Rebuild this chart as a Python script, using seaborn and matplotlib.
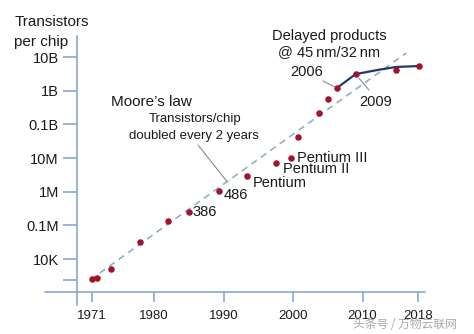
import numpy as np
import pandas as pd
import matplotlib
matplotlib.use("Agg")
import matplotlib.pyplot as plt
import seaborn as sns

# ---- data ----
years = [1971, 1971.8, 1973.8, 1978.0, 1982.0, 1985.0, 1989.4, 1993.3, 1997.5,
         1999.7, 2000.7, 2003.7, 2005.0, 2006.3, 2009.0, 2014.8, 2018.1]
transistors = [2.5e3, 2.8e3, 5.0e3, 3.2e4, 1.34e5, 2.5e5, 1.05e6, 2.9e6, 7.1e6,
               1.0e7, 4.2e7, 2.2e8, 5.6e8, 1.2e9, 3.1e9, 4.1e9, 5.4e9]
chip_labels = ["", "", "", "", "", "386", "486", "Pentium", "Pentium II",
               "Pentium III", "", "", "", "", "", "", ""]

moore_years = [1970.8, 2016.3]
moore_values = [2.4e3, 1.32e10]

delayed_years = [2006.3, 2009.0, 2012.1, 2014.8, 2018.1]
delayed_values = [1.2e9, 3.1e9, 4.1e9, 5.05e9, 5.4e9]

xtick_years = [1971, 1980, 1990, 2000, 2010, 2018]
ytick_values = [1e10, 1e9, 1e8, 1e7, 1e6, 1e5, 1e4, 2.4e3]
ytick_labels = ["10B", "1B", "0.1B", "10M", "1M", "0.1M", "10K", ""]

# ---- style ----
sns.set_style("white")
plt.rcParams["font.family"] = ["Liberation Sans", "Noto Sans CJK SC", "DejaVu Sans"]

AXIS_BLUE = "#7ba0d6"
DOT_RED = "#a3142c"
DASH_COL = "#90b0c6"
LINE_BLUE = "#1f3a6a"
LEADER = "#8a8a8a"
TXT = "#1a1a1a"

W, H = 474, 334
fig = plt.figure(figsize=(W / 100, H / 100), dpi=100)
fig.patch.set_facecolor("white")


def fpx(x, y):
    return (x / W, 1 - y / H)


ax = fig.add_axes([45 / W, (H - 305) / H, 380 / W, (305 - 36) / H])
ax.set_facecolor("white")
ax.set_yscale("log")
ax.set_xlim(1964.29, 2018.99)
ax.set_ylim(10 ** 2.634, 10 ** 10.624)

df = pd.DataFrame({"year": years, "transistors": transistors, "label": chip_labels})
df_moore = pd.DataFrame({"year": moore_years, "transistors": moore_values})
df_del = pd.DataFrame({"year": delayed_years, "transistors": delayed_values})

sns.lineplot(data=df_moore, x="year", y="transistors", ax=ax, color=DASH_COL,
             lw=1.2, dashes=False, estimator=None, zorder=1).lines[-1].set_dashes((4, 3))
sns.lineplot(data=df_del, x="year", y="transistors", ax=ax, color=LINE_BLUE,
             lw=1.6, estimator=None, zorder=2)
sns.scatterplot(data=df, x="year", y="transistors", ax=ax, color=DOT_RED, s=22,
                linewidth=0, zorder=3)

# spines
for s in ["top", "right"]:
    ax.spines[s].set_visible(False)
ax.spines["left"].set_position(("data", 1968.89))
ax.spines["bottom"].set_position(("data", 10 ** 3.021))
for s in ["left", "bottom"]:
    ax.spines[s].set_color(AXIS_BLUE)
    ax.spines[s].set_linewidth(1.1)

ax.set_xticks(xtick_years)
ax.set_xticklabels([str(y) for y in xtick_years])
ax.set_yticks(ytick_values)
ax.set_yticklabels(ytick_labels)
ax.minorticks_off()
ax.tick_params(axis="y", which="major", left=True, direction="out", length=10,
               width=1.1, color=AXIS_BLUE, pad=3, labelsize=10.5, labelcolor=TXT)
ax.tick_params(axis="x", which="major", bottom=True, direction="out", length=7,
               width=1.1, color=AXIS_BLUE, pad=6, labelsize=9.5, labelcolor=TXT)
ax.set_xlabel("")
ax.set_ylabel("")
ax.grid(False)

# chip labels
offsets = {"386": (2.9, 0), "486": (2.9, -2.9), "Pentium": (4.3, -5),
           "Pentium II": (5, -4.3), "Pentium III": (4.3, 0)}
for yr, v, lab in zip(years, transistors, chip_labels):
    if lab:
        ax.annotate(lab, xy=(yr, v), xytext=offsets[lab], textcoords="offset points",
                    ha="left", va="center", fontsize=10.5, color=TXT)

# axis title
fig.text(*fpx(15, 22), "Transistors", ha="left", va="center", fontsize=11, color=TXT)
fig.text(*fpx(14, 42), "per chip", ha="left", va="center", fontsize=11, color=TXT)

# Moore's law annotation
fig.text(*fpx(151, 102), "Moore\u2019s law", ha="center", va="center", fontsize=11, color=TXT)
fig.text(*fpx(195, 119), "Transistors/chip", ha="center", va="center", fontsize=9.5, color=TXT)
fig.text(*fpx(194, 136), "doubled every 2 years", ha="center", va="center", fontsize=9.5, color=TXT)
lead_year = 1990.5
lead_val = 10 ** np.interp(lead_year, moore_years, np.log10(moore_values))
ax.annotate("", xy=(lead_year, lead_val), xytext=fpx(198, 145),
            textcoords="figure fraction",
            arrowprops=dict(arrowstyle="-", color=LEADER, lw=0.8, shrinkA=0, shrinkB=0))

# delayed products annotation
fig.text(*fpx(329, 36), "Delayed products", ha="center", va="center", fontsize=10.5, color=TXT)
fig.text(*fpx(329, 52), "@ 45\u2009nm/32\u2009nm", ha="center", va="center", fontsize=10.5, color=TXT)
fig.text(*fpx(307, 72), "2006", ha="center", va="center", fontsize=10.5, color=TXT)
fig.text(*fpx(376, 102), "2009", ha="center", va="center", fontsize=10.5, color=TXT)
ax.annotate("", xy=(delayed_years[0], delayed_values[0]), xytext=fpx(323, 81),
            textcoords="figure fraction",
            arrowprops=dict(arrowstyle="-", color=LEADER, lw=0.8, shrinkA=0, shrinkB=2))
ax.annotate("", xy=(delayed_years[1], delayed_values[1]), xytext=fpx(369, 90),
            textcoords="figure fraction",
            arrowprops=dict(arrowstyle="-", color=LEADER, lw=0.8, shrinkA=0, shrinkB=4))

# watermark
fig.text(*fpx(405, 324), "头条号 / 万物云联网", ha="center", va="center", fontsize=8.5,
         color="#a9a9a9", family=["Noto Sans CJK SC", "DejaVu Sans"])

fig.savefig("out.png", dpi=100)
